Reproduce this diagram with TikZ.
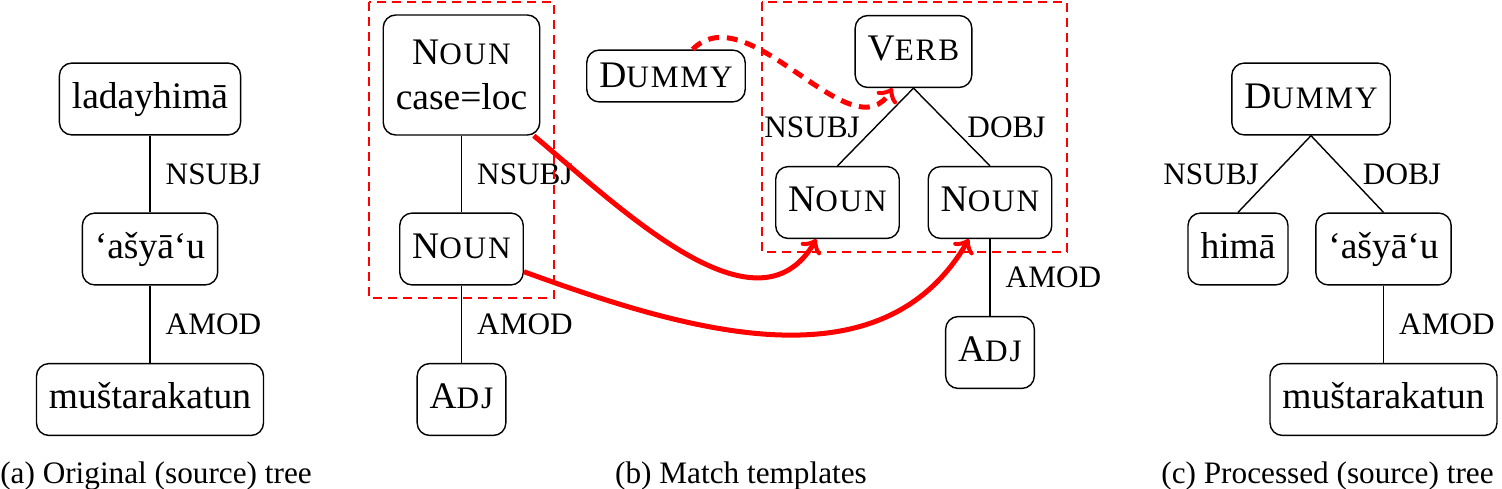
\documentclass[tikz,border=0pt]{standalone}
\usepackage{fontspec}
\setmainfont{Liberation Serif}
\newcommand\fsc[2]{#1{\fontsize{10}{12}\selectfont\addfontfeature{LetterSpace=6}#2}}
\begin{document}
\begin{tikzpicture}[x=0.32pt, y=-0.32pt,
  box/.style={draw, rounded corners=4pt, font=\fontsize{12}{14.5}\selectfont, inner xsep=4pt, inner ysep=0pt, line width=0.45pt},
  tn/.style={box, minimum height=23pt, text height=9pt, text depth=3pt},
  lab/.style={font=\fontsize{10}{12}\selectfont, inner sep=0pt},
  edgeline/.style={draw, line width=0.45pt},
  redbox/.style={draw=red, line width=0.5pt, dash pattern=on 3pt off 1.8pt},
  redarr/.style={draw=red, line width=1.6pt, ->},
  reddash/.style={redarr, dash pattern=on 3.5pt off 2.5pt},
  captext/.style={font=\fontsize{10}{12}\selectfont, anchor=base, inner sep=0pt}]
\useasboundingbox (0,0) rectangle (1502,489);

% (a)
\node[tn] (a1) at (150,99) {ladayhimā};
\node[tn] (a2) at (150,249) {‘ašyā‘u};
\node[tn] (a3) at (150,399.5) {muštarakatun};
\draw[edgeline] (a1) -- node[lab, midway, right=4.8pt] {NSUBJ} (a2);
\draw[edgeline] (a2) -- node[lab, midway, right=4.8pt] {AMOD} (a3);

% (b)
\node[box, align=center, minimum height=38.4pt] (b1) at (461.5,75) {\fsc{N}{OUN}\\case=loc};
\node[tn] (b2) at (461.5,249) {\fsc{N}{OUN}};
\node[tn] (b3) at (461.5,399.5) {\fsc{A}{DJ}};
\draw[edgeline] (b1) -- node[lab, midway, right=4.8pt] {NSUBJ} (b2);
\draw[edgeline] (b2) -- node[lab, midway, right=4.8pt] {AMOD} (b3);

\node[box, minimum height=16.6pt, text height=9pt, text depth=1.5pt] (bd) at (666,76) {\fsc{D}{UMMY}};
\node[tn] (bv) at (913.5,51.5) {\fsc{V}{ERB}};
\node[tn] (bn1) at (837.5,202.5) {\fsc{N}{OUN}};
\node[tn] (bn2) at (990,202.5) {\fsc{N}{OUN}};
\node[tn] (ba) at (990,352.5) {\fsc{A}{DJ}};
\draw[edgeline] (bv.south) -- node[lab, midway, left=4.8pt] {NSUBJ} (bn1.north);
\draw[edgeline] (bv.south) -- node[lab, midway, right=4.8pt] {DOBJ} (bn2.north);
\draw[edgeline] (bn2) -- node[lab, midway, right=4.8pt] {AMOD} (ba);

\draw[redbox] (369,2) rectangle (554,298);
\draw[redbox] (762,2) rectangle (1067,252);

\draw[redarr] (b1) to[out=-40, in=-120] (bn1);
\draw[redarr] (b2) to[out=-20, in=-120] (bn2);
\draw[reddash] (bd) to[out=45, in=-120] (bv);

% (c)
\node[tn] (c1) at (1311,99) {\fsc{D}{UMMY}};
\node[tn] (c2) at (1238,249) {himā};
\node[tn] (c3) at (1383.5,249) {‘ašyā‘u};
\node[tn] (c4) at (1383.5,399.5) {muštarakatun};
\draw[edgeline] (c1.south) -- node[lab, midway, left=4.8pt] {NSUBJ} (c2.north);
\draw[edgeline] (c1.south) -- node[lab, midway, right=4.8pt] {DOBJ} (c3.north);
\draw[edgeline] (c3) -- node[lab, midway, right=4.8pt] {AMOD} (c4);

% captions
\node[captext] (capa) at (156,483) {(a) Original (source) tree};
\node[captext] (capb) at (741,483) {(b) Match templates};
\node[captext] (capc) at (1327.5,483) {(c) Processed (source) tree};
\end{tikzpicture}
\end{document}
